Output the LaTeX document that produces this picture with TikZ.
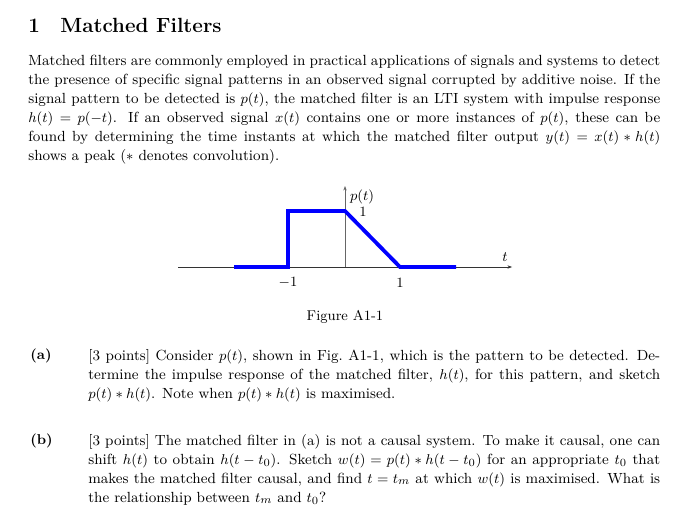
\documentclass[tikz,border=0pt]{standalone}
\usepackage{amsmath}
\usepackage{tikz}
\usetikzlibrary{positioning,arrows.meta}
\definecolor{pulse}{rgb}{0.0,0.0,1.0}

\begin{document}
\begin{tikzpicture}[
  x = 0.633pt,
  y = -0.633pt,
  para/.style = {
    anchor = north west,
    align = justify,
    inner sep = 0pt,
    font = \fontsize{9.3}{12}\selectfont,
  },
  plotline/.style = {
    draw = pulse,
    line width = 2.4pt,
  },
  >={Stealth[scale=0.6]},
]
  \useasboundingbox (0,0) rectangle (688,513);

  \node[anchor=base west,inner sep=0pt] (title) at (28,33)
    {\fontsize{13}{16}\selectfont\bfseries 1\hspace{1em}Matched Filters};

  \node[para,text width=400pt] (intro) at (28,55) {%
    Matched filters are commonly employed in practical applications of signals and systems to detect\linebreak
    the presence of specific signal patterns in an observed signal corrupted by additive noise. If the\linebreak
    signal pattern to be detected is $p(t)$, the matched filter is an LTI system with impulse response\linebreak
    $h(t)=p(-t)$. If an observed signal $x(t)$ contains one or more instances of $p(t)$, these can be\linebreak
    found by determining the time instants at which the matched filter output $y(t)=x(t)*h(t)$\linebreak
    shows a peak ($*$ denotes convolution).};

  % plot
  \coordinate (o) at (345,267);
  \draw[->,black!80] (178,267) -- (512,267);
  \draw[->,black!60] (345,267) -- (345,186);
  \draw[plotline] (234,267) -- (288,267) -- (288,211) -- (345,211) -- (400,267) -- (456,267);
  \node[font=\small] (pt) at (362,197) {$p(t)$};
  \node[font=\small] (one) at (363,212) {$1$};
  \node[font=\small] (tlab) at (505,257) {$t$};
  \node[font=\small] (m1) at (288,283) {$-1$};
  \node[font=\small] (p1) at (400,283) {$1$};
  \node[font=\small] (cap) at (345,317) {Figure A1-1};

  \node[anchor=base west,inner sep=0pt,font=\small] (a) at (30,359) {\bfseries (a)};
  \node[para,text width=362pt] (parta) at (88,349) {%
    [3 points] Consider $p(t)$, shown in Fig.~A1-1, which is the pattern to be detected. De-\linebreak
    termine the impulse response of the matched filter, $h(t)$, for this pattern, and sketch\linebreak
    $p(t)*h(t)$. Note when $p(t)*h(t)$ is maximised.};

  \node[anchor=base west,inner sep=0pt,font=\small] (b) at (30,444) {\bfseries (b)};
  \node[para,text width=362pt] (partb) at (88,434) {%
    [3 points] The matched filter in (a) is not a causal system. To make it causal, one can\linebreak
    shift $h(t)$ to obtain $h(t-t_0)$. Sketch $w(t)=p(t)*h(t-t_0)$ for an appropriate $t_0$ that\linebreak
    makes the matched filter causal, and find $t=t_m$ at which $w(t)$ is maximised. What is\linebreak
    the relationship between $t_m$ and $t_0$?};
\end{tikzpicture}
\end{document}
